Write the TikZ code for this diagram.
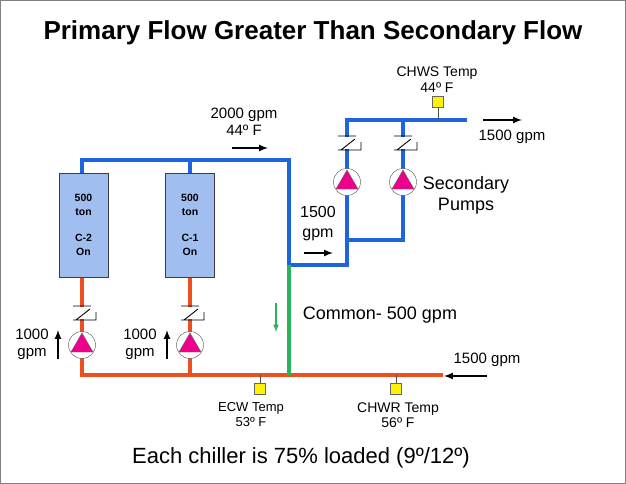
\documentclass[tikz,border=0pt]{standalone}
\usepackage{fontspec}
\setmainfont{Liberation Sans}
\begin{document}
\begin{tikzpicture}[x=1pt,y=-1pt,
  bluep/.style={draw={rgb,255:red,30;green,100;blue,220},line width=3.5pt},
  redp/.style={draw={rgb,255:red,235;green,80;blue,30},line width=3.5pt},
  greenp/.style={draw={rgb,255:red,40;green,180;blue,90},line width=3.5pt},
  chiller/.style={draw={rgb,255:red,60;green,60;blue,70},fill={rgb,255:red,160;green,190;blue,240},minimum width=49pt,minimum height=104pt,inner sep=0pt,align=center,font=\bfseries\fontsize{10.5}{14}\selectfont},
  pumpc/.style={circle,draw=black!70,fill=white,minimum size=27pt,inner sep=0pt},
  sensor/.style={draw=black!60,fill=yellow,minimum width=11pt,minimum height=11pt,inner sep=0pt},
  lbl/.style={font=\fontsize{15}{17}\selectfont,align=center},
  flow/.style={-latex,line width=2pt}]
\useasboundingbox (0,0) rectangle (626,484);
\draw[black!50] (0.5,0.5) rectangle (625.5,483.5);
\node[font=\bfseries\fontsize{26}{30}\selectfont] (title) at (313,33) {Primary Flow Greater Than Secondary Flow};
% blue supply
\draw[bluep] (82,173) -- (82,160) -- (289,160) -- (289,265) -- (347,265) -- (347,120) -- (467,120);
\draw[bluep] (190,173) -- (190,160);
\draw[bluep] (403,120) -- (403,240) -- (347,240);
% red return
\draw[redp] (82,277) -- (82,375) -- (443,375);
\draw[redp] (190,277) -- (190,375);
% green common
\draw[greenp] (289,265) -- (289,375);
\draw[-latex,line width=1.5pt,draw={rgb,255:red,40;green,180;blue,90}] (276,303) -- (276,332);
% check valves
\foreach \x/\y in {82/313,190/313,347/143,403/143}{
  \fill[white] (\x-3,\y-6) rectangle (\x+3,\y+6);
  \draw[line width=0.9pt] (\x-9,\y-7) -- (\x+9,\y-7) (\x-9,\y+7) -- (\x+9,\y+7)
    (\x-6,\y+7) -- (\x+8,\y-4) (\x+14,\y-1) -- (\x+14,\y+7) -- (\x+9,\y+7);
}
% chillers
\node[chiller] (c2) at (83.5,225) {500\\ton\\[12pt]C-2\\On};
\node[chiller] (c1) at (190,225) {500\\ton\\[12pt]C-1\\On};
% pumps
\foreach \n/\x/\y in {p2/82/345,p1/190/345,s1/347/182,s2/403/182}{
  \node[pumpc] (\n) at (\x,\y) {};
  \fill[magenta,draw=black!60] (\x-11,\y+7) -- (\x,\y-12) -- (\x+11,\y+7) -- cycle;
}
% sensors
\node[sensor] (chws) at (438,102) {};
\draw[black!70] (chws.south) -- (438,120);
\node[sensor] (ecw) at (260,389) {};
\draw[black!70] (ecw.north) -- (260,375);
\node[sensor] (chwr) at (396,389) {};
\draw[black!70] (chwr.north) -- (396,375);
\node[lbl,font=\fontsize{14}{16}\selectfont] (chwst) at (437,80) {CHWS Temp\\44º F};
\node[lbl,font=\fontsize{13}{15}\selectfont] (ecwt) at (251,415) {ECW Temp\\53º F};
\node[lbl,font=\fontsize{14}{15}\selectfont] (chwrt) at (398,415) {CHWR Temp\\56º F};
% labels
\node[lbl] (l2000) at (244,122) {2000 gpm\\44º F};
\draw[flow] (232,148) -- (268,148);
\node[lbl] (l1500o) at (512,137) {1500 gpm};
\draw[flow] (483,120) -- (522,120);
\node[lbl,font=\fontsize{18}{21}\selectfont] (sp) at (466,195) {Secondary\\Pumps};
\node[lbl,font=\fontsize{16}{20}\selectfont] (l1500s) at (318,224) {1500\\gpm};
\draw[flow] (304,253) -- (333,253);
\node[lbl,font=\fontsize{18}{21}\selectfont] (common) at (380,315) {Common- 500 gpm};
\node[lbl] (l1500r) at (487,360) {1500 gpm};
\draw[flow] (487,376) -- (444,376);
\node[lbl] (g2) at (32,344) {1000\\gpm};
\draw[flow] (58,359) -- (58,330);
\node[lbl] (g1) at (140,344) {1000\\gpm};
\draw[flow] (167,359) -- (167,330);
\node[font=\fontsize{22}{26}\selectfont] (foot) at (301,458) {Each chiller is 75\% loaded (9º/12º)};
\end{tikzpicture}
\end{document}
